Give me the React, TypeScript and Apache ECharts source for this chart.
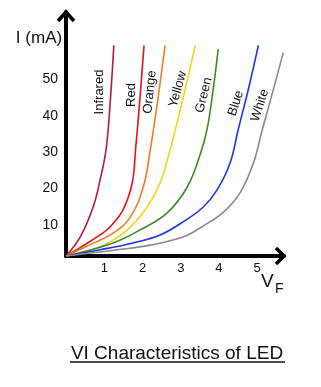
import React, { useEffect, useRef } from "react";
import * as echarts from "echarts";

// Forward current I (mA) vs forward voltage V_F (V)
const infrared = [[0, 0], [0.37, 5.2], [0.71, 13.5], [0.89, 20.9], [1.05, 29.5], [1.16, 43], [1.25, 58]];
const red = [[0, 0], [0.4, 2.5], [0.89, 5.8], [1.15, 8], [1.49, 12.7], [1.73, 20.1], [1.82, 29.5], [1.93, 43], [2.04, 58]];
const orange = [[0, 0], [0.5, 2.5], [1.23, 6.3], [1.68, 10.7], [2.02, 19], [2.2, 29], [2.4, 43], [2.59, 58]];
const yellow = [[0, 0], [0.89, 2.5], [1.6, 7.2], [2.12, 13.5], [2.46, 20.1], [2.72, 29.2], [3.05, 43], [3.38, 58]];
const green = [[0, 0], [1.23, 3.6], [1.94, 7.2], [2.64, 11.8], [3.17, 19], [3.51, 28], [3.69, 35], [3.85, 46], [3.98, 57]];
const blue = [[0, 0], [0.89, 1.7], [1.75, 3.6], [2.46, 5.8], [3.06, 9.4], [3.59, 13.5], [3.95, 18.2], [4.29, 25.6], [4.5, 34.7], [4.77, 46], [5.03, 58]];
const white = [[0, 0], [1.34, 1.7], [2.2, 3], [3.06, 5.2], [3.59, 8.3], [4.11, 12], [4.55, 17.4], [4.9, 25.6], [5.13, 34.7], [5.4, 45], [5.68, 56]];

const seriesNames = ["Infrared", "Red", "Orange", "Yellow", "Green", "Blue", "White"];
const seriesData = [infrared, red, orange, yellow, green, blue, white];
const xTickLabels = ["1", "2", "3", "4", "5"];
const yTickLabels = ["10", "20", "30", "40", "50"];

const X_MAX = 5.7;
const Y_MAX = 67.2;

const COLORS = ["#b3174f", "#e8121b", "#f07a28", "#f5d41a", "#3a8a20", "#1c33e6", "#8a8a8a"];
const FONT = "Liberation Sans, Arial, sans-serif";

// label placements (pixel centre, rotation in degrees)
const LABEL_POS: [number, number, number][] = [
  [98, 92, 90],
  [130, 95, 90],
  [149, 92, 84],
  [177, 89, 74],
  [203, 95, 76],
  [235, 103, 72],
  [259, 105, 72],
];

export default function App() {
  const ref = useRef<HTMLDivElement>(null);
  useEffect(() => {
    if (!ref.current) return;
    const chart = echarts.init(ref.current, null, { renderer: "svg" });
    chart.setOption({
      animation: false,
      grid: { left: 66, top: 12, right: 37, bottom: 131, containLabel: false },
      xAxis: {
        type: "value",
        min: 0,
        max: X_MAX,
        interval: 1,
        splitLine: { show: false },
        axisTick: { show: false },
        axisLine: { show: true, lineStyle: { color: "#000", width: 4 } },
        axisLabel: {
          margin: 5,
          color: "#111",
          fontSize: 13,
          fontFamily: FONT,
          showMaxLabel: false,
          formatter: (v: number) => (xTickLabels.includes(String(v)) ? String(v) : ""),
        },
      },
      yAxis: {
        type: "value",
        min: 0,
        max: Y_MAX,
        interval: 10,
        splitLine: { show: false },
        axisTick: { show: false },
        axisLine: { show: true, lineStyle: { color: "#000", width: 4 } },
        axisLabel: {
          margin: 8,
          color: "#111",
          fontSize: 14,
          fontFamily: FONT,
          verticalAlign: "top",
          lineHeight: 8,
          showMaxLabel: false,
          formatter: (v: number) => (yTickLabels.includes(String(v)) ? String(v) : ""),
        },
      },
      series: seriesData.map((d, i) => ({
        name: seriesNames[i],
        type: "line",
        data: d,
        showSymbol: false,
        smooth: 0.4,
        lineStyle: { color: COLORS[i], width: 1.6 },
        z: 1,
      })),
    });

    const [xe, y0] = chart.convertToPixel({ gridIndex: 0 }, [X_MAX, 0]) as number[];
    const [x0, ye] = chart.convertToPixel({ gridIndex: 0 }, [0, Y_MAX]) as number[];

    const graphics: any[] = [
      {
        type: "polyline",
        shape: { points: [[xe - 8, y0 - 8], [xe, y0], [xe - 8, y0 + 8]] },
        style: { stroke: "#000", lineWidth: 3.5, fill: "none" },
        z: 10,
      },
      {
        type: "polyline",
        shape: { points: [[x0 - 8, ye + 9], [x0, ye], [x0 + 8, ye + 9]] },
        style: { stroke: "#000", lineWidth: 3.5, fill: "none" },
        z: 10,
      },
      {
        type: "text",
        x: 39,
        y: 37,
        style: { text: "I (mA)", fontSize: 17, fontFamily: FONT, fill: "#111", align: "center", verticalAlign: "middle" },
      },
      {
        type: "text",
        x: 261,
        y: 280,
        style: { text: "V", fontSize: 19, fontFamily: FONT, fill: "#111", align: "left", verticalAlign: "middle" },
      },
      {
        type: "text",
        x: 275,
        y: 288,
        style: { text: "F", fontSize: 14, fontFamily: FONT, fill: "#111", align: "left", verticalAlign: "middle" },
      },
      {
        type: "text",
        x: 177,
        y: 352,
        style: {
          text: "VI Characteristics of LED",
          fontSize: 19,
          fontFamily: FONT,
          fill: "#111",
          align: "center",
          verticalAlign: "middle",
        },
      },
      {
        type: "line",
        shape: { x1: 70, y1: 362, x2: 285, y2: 362 },
        style: { stroke: "#111", lineWidth: 1.5 },
      },
    ];
    seriesNames.forEach((n, i) => {
      const [lx, ly, rot] = LABEL_POS[i];
      graphics.push({
        type: "text",
        x: lx,
        y: ly,
        rotation: (rot * Math.PI) / 180,
        style: { text: n, fontSize: 13, fontFamily: FONT, fill: "#111", align: "center", verticalAlign: "middle" },
      });
    });
    chart.setOption({ graphic: graphics });
    return () => chart.dispose();
  }, []);
  return <div ref={ref} style={{ position: "fixed", left: 0, top: 0, width: 321, height: 387 }} />;
}
